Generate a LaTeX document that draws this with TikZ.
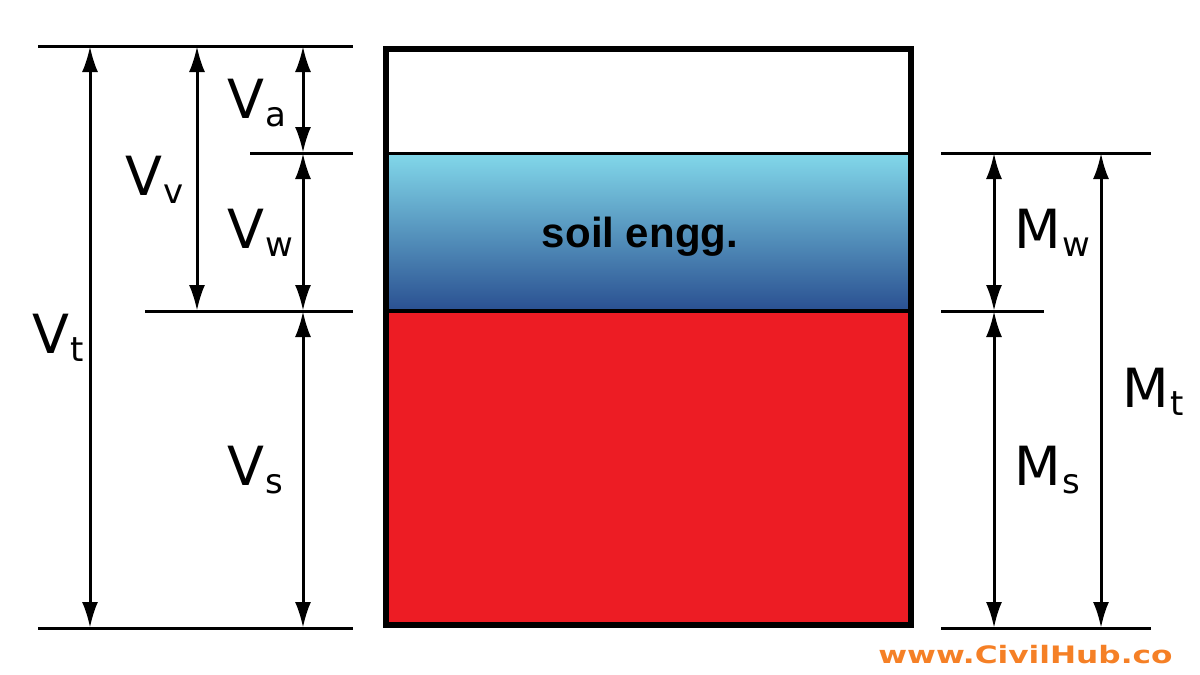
\documentclass[tikz,border=0pt]{standalone}
\usepackage{fontspec}
\setmainfont{DejaVu Sans}
\newfontfamily\arialfont{Liberation Sans}
\usetikzlibrary{arrows.meta}

\definecolor{waterTop}{RGB}{130,216,234}
\definecolor{waterBot}{RGB}{42,80,145}
\definecolor{solidRed}{RGB}{237,28,36}
\definecolor{webOrange}{RGB}{245,128,38}

% quantity symbol with subscript
\newcommand{\qsym}[2]{\fontsize{27}{27}\selectfont #1\hspace{0.5pt}\raisebox{-4pt}{\fontsize{17}{17}\selectfont #2}}

\tikzset{
  extline/.style={line width=1.5pt},
  dimline/.style={line width=1.5pt,
    {Latex[length=13pt,width=8pt]}-{Latex[length=13pt,width=8pt]}},
  qlabel/.style={anchor=base west, inner sep=0pt},
}

\begin{document}
\begin{tikzpicture}[x=0.5pt,y=-0.5pt]
  \useasboundingbox (0,0) rectangle (1200,675);

  % phases
  \fill[white] (386,49) rectangle (911,153);
  \shade[top color=waterTop, bottom color=waterBot] (386,153) rectangle (911,311);
  \fill[solidRed] (386,311) rectangle (911,625);
  \draw[line width=1.5pt] (386,153) -- (911,153);
  \draw[line width=2pt] (386,311) -- (911,311);
  \draw[line width=3pt] (386,49) rectangle (911,625);
  \node[font=\arialfont\bfseries\fontsize{21}{21}\selectfont] (soil) at (640,237) {soil engg.};

  % volume side
  \coordinate (vt-top) at (90,46);
  \coordinate (vt-bot) at (90,628);
  \coordinate (vv-top) at (197,46);
  \coordinate (vv-bot) at (197,311);
  \coordinate (va-top) at (303,46);
  \coordinate (va-bot) at (303,153);
  \coordinate (vw-bot) at (303,311);
  \coordinate (vs-bot) at (303,628);

  \draw[extline] (38,46) -- (353,46);
  \draw[extline] (250,153) -- (353,153);
  \draw[extline] (145,311) -- (353,311);
  \draw[extline] (38,628) -- (353,628);

  \draw[dimline] (vt-top) -- (vt-bot);
  \draw[dimline] (vv-top) -- (vv-bot);
  \draw[dimline] (va-top) -- (va-bot);
  \draw[dimline] (va-bot) -- (vw-bot);
  \draw[dimline] (vw-bot) -- (vs-bot);

  \node[qlabel] (va) at (227,118) {\qsym{V}{a}};
  \node[qlabel] (vv) at (125,195) {\qsym{V}{v}};
  \node[qlabel] (vw) at (227,248) {\qsym{V}{w}};
  \node[qlabel] (vt) at (32,353) {\qsym{V}{t}};
  \node[qlabel] (vs) at (227,485) {\qsym{V}{s}};

  % mass side
  \coordinate (mw-top) at (994,153);
  \coordinate (mw-bot) at (994,311);
  \coordinate (ms-bot) at (994,628);
  \coordinate (mt-top) at (1101,153);
  \coordinate (mt-bot) at (1101,628);

  \draw[extline] (941,153) -- (1151,153);
  \draw[extline] (941,311) -- (1044,311);
  \draw[extline] (941,628) -- (1151,628);

  \draw[dimline] (mw-top) -- (mw-bot);
  \draw[dimline] (mw-bot) -- (ms-bot);
  \draw[dimline] (mt-top) -- (mt-bot);

  \node[qlabel] (mw) at (1014,248) {\qsym{M}{w}};
  \node[qlabel] (ms) at (1014,485) {\qsym{M}{s}};
  \node[qlabel] (mt) at (1122,407) {\qsym{M}{t}};

  \node[qlabel, text=webOrange, font=\bfseries\fontsize{12}{12}\selectfont] (web) at (878,663)
    {\scalebox{1.3}[1]{www.CivilHub.co}};
\end{tikzpicture}
\end{document}
